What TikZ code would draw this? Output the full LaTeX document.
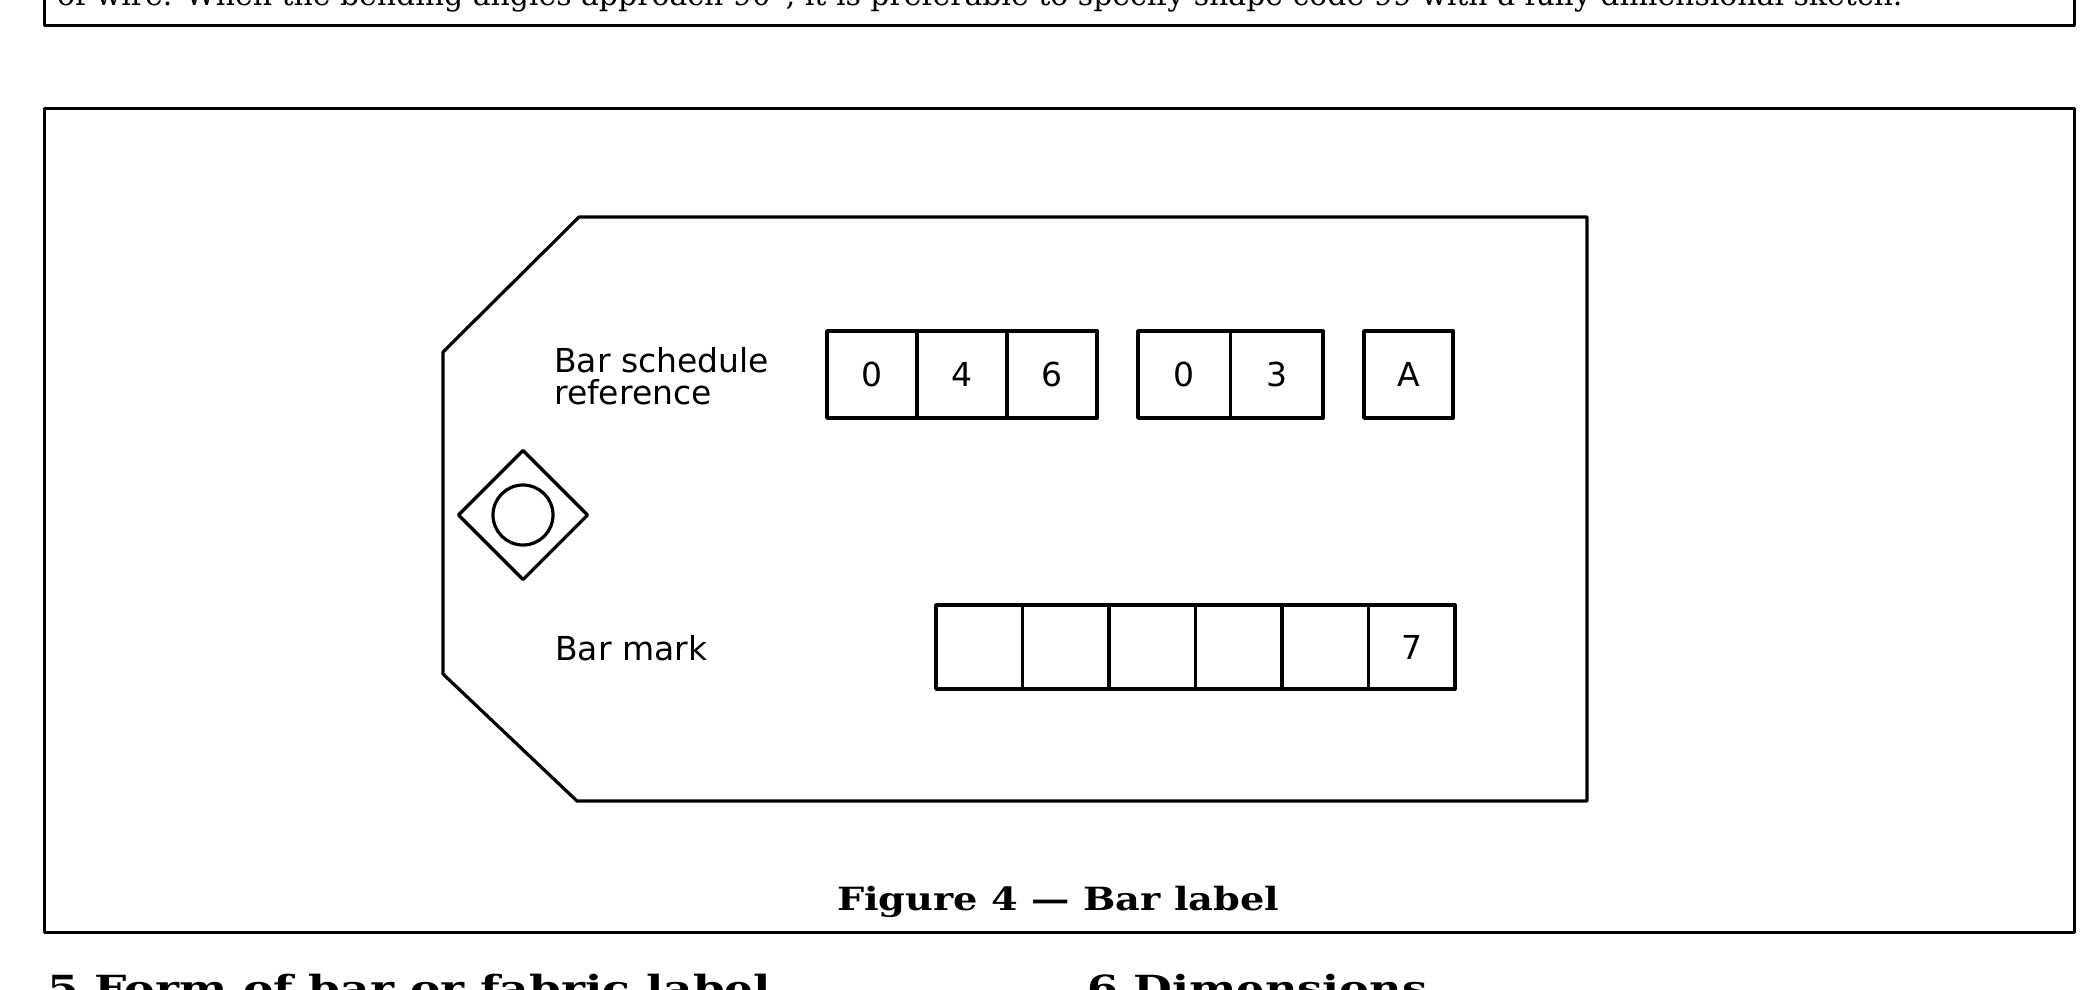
\documentclass[tikz,border=0pt]{standalone}
\usepackage{fontspec}
\setmainfont{DejaVu Serif}
\newfontfamily\tagfont{DejaVu Sans}
\begin{document}
\begin{tikzpicture}[x=1pt,y=-1pt,line join=round,
  frameline/.style={line width=3pt},
  tagline/.style={line width=3.2pt},
  cell/.style={draw,line width=3.8pt,inner sep=0pt,minimum height=87pt,
    font=\tagfont\fontsize{33}{33}\selectfont},
  cellb/.style={cell,minimum height=84pt,minimum width=86.5pt},
  lbl/.style={inner sep=0pt,anchor=base west,font=\tagfont\fontsize{33}{33}\selectfont},
  txt/.style={inner sep=0pt,anchor=base west}]
\useasboundingbox (0,0) rectangle (2096,990);
\clip (0,0) rectangle (2096,990);
\fill[white] (0,0) rectangle (2096,990);
% box of the text above
\draw[frameline] (44,-10) -- (44,26) -- (2074,26) -- (2074,-10);
\node[txt] (prevtext) at (57,6) {\resizebox{1845pt}{\height}{\fontsize{30}{30}\selectfont of wire. When the bending angles approach 90°, it is preferable to specify shape code 99 with a fully dimensional sketch.}};
% figure frame
\draw[frameline] (44,108) rectangle (2074,932);
% tag outline
\draw[tagline] (443,352) -- (579,217) -- (1587,217) -- (1587,801) -- (577,801) -- (443,674) -- cycle;
% eyelet
\draw[tagline] (523,450.5) -- (587.5,515) -- (523,579.5) -- (458.5,515) -- cycle;
\draw[tagline] (523,515) circle (30pt);
% labels
\node[lbl] (bsr1) at (554,372) {Bar schedule};
\node[lbl] (bsr2) at (554,404) {reference};
\node[lbl] (bm) at (555,660) {Bar mark};
% schedule reference cells
\node[cell,minimum width=90pt] (r1) at (872,374.5) {0};
\node[cell,minimum width=90pt] (r2) at (962,374.5) {4};
\node[cell,minimum width=90pt] (r3) at (1052,374.5) {6};
\node[cell,minimum width=92.5pt] (r4) at (1184.25,374.5) {0};
\node[cell,minimum width=92.5pt] (r5) at (1276.75,374.5) {3};
\node[cell,minimum width=89pt] (r6) at (1408.5,374.5) {A};
% bar mark cells
\node[cellb] (m1) at (979.25,647) {};
\node[cellb] (m2) at (1065.75,647) {};
\node[cellb] (m3) at (1152.25,647) {};
\node[cellb] (m4) at (1238.75,647) {};
\node[cellb] (m5) at (1325.25,647) {};
\node[cellb] (m6) at (1411.75,647) {7};
% caption
\node[txt] (cap) at (837,910) {\resizebox{442pt}{\height}{\fontsize{32}{32}\selectfont\bfseries Figure 4 — Bar label}};
% following headings
\node[txt] (h5) at (47,1001) {\resizebox{724pt}{\height}{\fontsize{36}{36}\selectfont\bfseries 5 Form of bar or fabric label}};
\node[txt] (h6) at (1087,1001) {\resizebox{340pt}{\height}{\fontsize{36}{36}\selectfont\bfseries 6 Dimensions}};
\end{tikzpicture}
\end{document}
